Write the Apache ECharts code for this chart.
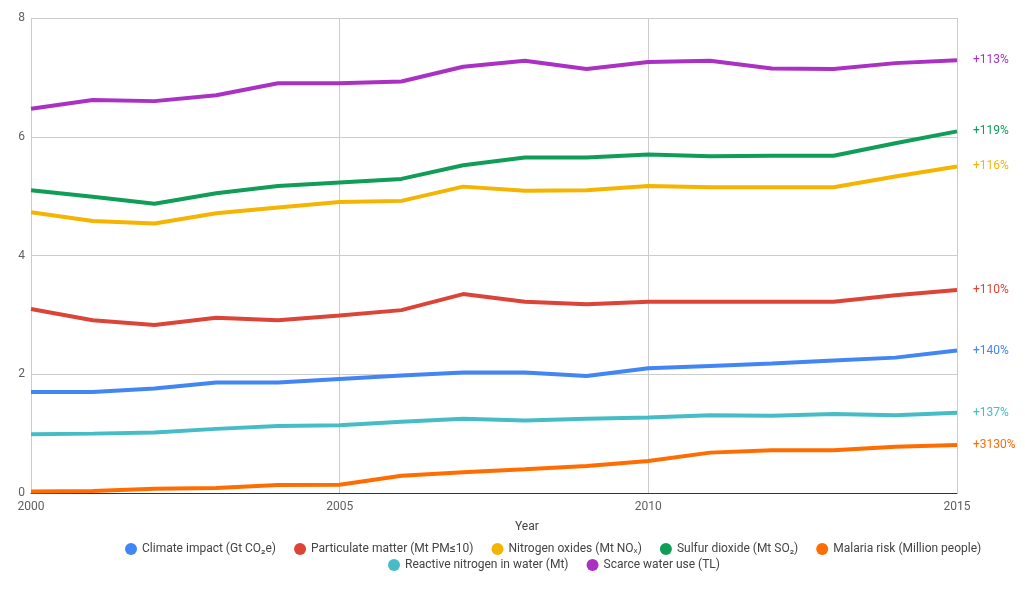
<!DOCTYPE html>
<html><head><meta charset="utf-8">
<script src="https://cdn.jsdelivr.net/npm/echarts@6/dist/echarts.min.js"></script>
<style>html,body{margin:0;padding:0;background:#fff}#c{width:1025px;height:589px}</style>
</head><body><div id="c"></div>
<script>
const years = [2000,2001,2002,2003,2004,2005,2006,2007,2008,2009,2010,2011,2012,2013,2014,2015];
const seriesNames = ['Climate impact (Gt CO₂e)','Particulate matter (Mt PM≤10)','Nitrogen oxides (Mt NOₓ)','Sulfur dioxide (Mt SO₂)','Malaria risk (Million people)','Reactive nitrogen in water (Mt)','Scarce water use (TL)'];
const climate   = [1.70,1.70,1.76,1.86,1.86,1.92,1.98,2.03,2.03,1.97,2.10,2.14,2.18,2.23,2.28,2.40];
const pm10      = [3.10,2.91,2.83,2.95,2.91,2.99,3.08,3.35,3.22,3.18,3.22,3.22,3.22,3.22,3.33,3.42];
const nox       = [4.73,4.58,4.54,4.71,4.81,4.90,4.92,5.16,5.09,5.10,5.17,5.15,5.15,5.15,5.33,5.50];
const so2       = [5.10,4.99,4.87,5.05,5.17,5.23,5.29,5.52,5.65,5.65,5.70,5.67,5.68,5.68,5.89,6.09];
const malaria   = [0.025,0.035,0.07,0.085,0.135,0.14,0.29,0.35,0.40,0.455,0.54,0.68,0.72,0.72,0.78,0.81];
const nitrogen  = [0.99,1.00,1.02,1.08,1.13,1.14,1.20,1.25,1.22,1.25,1.27,1.31,1.30,1.33,1.31,1.35];
const water     = [6.47,6.62,6.60,6.70,6.90,6.90,6.93,7.18,7.28,7.14,7.26,7.28,7.15,7.14,7.24,7.29];
const endLabels = ['+140%','+110%','+116%','+119%','+3130%','+137%','+113%'];
const yTicks = {min:0,max:8,interval:2};
const xTicks = {min:2000,max:2015,interval:5};
const colors = ['#4285F4','#DB4437','#F4B400','#0F9D58','#FF6D00','#46BDC6','#AB30C4'];
const allData = [climate,pm10,nox,so2,malaria,nitrogen,water];

const font = 'Roboto, "Noto Sans", sans-serif';
const chart = echarts.init(document.getElementById('c'), null, {renderer:'canvas'});
const series = seriesNames.map((n,i)=>({
  name:n, type:'line', data: years.map((y,k)=>[y, allData[i][k]]),
  showSymbol:false, symbol:'none', lineStyle:{width:4, color:colors[i]}, itemStyle:{color:colors[i]},
  endLabel:{show:true, formatter:()=>endLabels[i], color:colors[i], fontSize:12, fontFamily:font, distance:16},
  emphasis:{disabled:true}, animation:false
}));
chart.setOption({
  animation:false,
  color:colors,
  textStyle:{fontFamily:font},
  grid:{left:31,right:68,top:18,bottom:96,containLabel:false},
  xAxis:{type:'value',min:xTicks.min,max:xTicks.max,interval:xTicks.interval,
    axisLine:{show:true,lineStyle:{color:'#333',width:1}},axisTick:{show:false},
    axisLabel:{color:'#5f5f5f',fontSize:12,margin:8,formatter:v=>String(v)},
    splitLine:{show:true,lineStyle:{color:'#cccccc'}}},
  yAxis:{type:'value',min:yTicks.min,max:yTicks.max,interval:yTicks.interval,
    axisLine:{show:false},axisTick:{show:false},
    axisLabel:{color:'#5f5f5f',fontSize:12,margin:6},
    splitLine:{show:true,lineStyle:{color:'#cccccc'}}},
  legend:[
    {data:seriesNames.slice(0,5),top:538,left:120,icon:'circle',itemWidth:12,itemHeight:12,itemGap:18,
      textStyle:{color:'#444',fontSize:12,fontFamily:font},selectedMode:false},
    {data:seriesNames.slice(5),top:554,left:383,icon:'circle',itemWidth:12,itemHeight:12,itemGap:18,
      textStyle:{color:'#444',fontSize:12,fontFamily:font},selectedMode:false}
  ],
  graphic:[{type:'text',left:515,top:521,style:{text:'Year',fill:'#444',fontSize:12,fontFamily:font}}],
  series:series
});
</script></body></html>
